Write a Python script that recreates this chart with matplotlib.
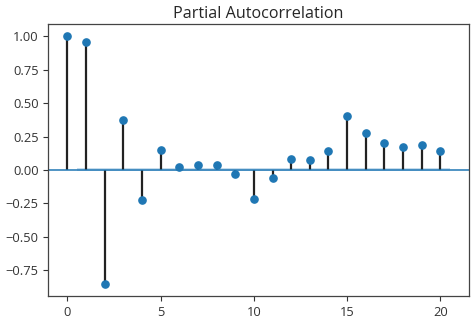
import numpy as np
import matplotlib.pyplot as plt

# partial autocorrelation by lag
lags = np.arange(0, 21)
pacf_vals = [1.00, 0.955, -0.853, 0.372, -0.225, 0.15, 0.018, 0.035, 0.035, -0.028,
             -0.22, -0.058, 0.085, 0.073, 0.14, 0.40, 0.28, 0.205, 0.175, 0.19, 0.14]
conf_half = 0.012  # half width of the 95% band around zero
title = "Partial Autocorrelation"

plt.rcParams['font.family'] = ['Open Sans', 'DejaVu Sans']

fig = plt.figure(figsize=(4.74, 3.25), dpi=100)
ax = fig.add_axes([0.102, 0.089, 0.887, 0.837])

pacf_vals = np.asarray(pacf_vals)
ax.vlines(lags, [0], pacf_vals, colors='#222222', linewidth=1.6)
ax.axhline(0, color='C0', linewidth=1.1)
ax.plot(lags, pacf_vals, 'o', color='C0', markersize=5.2)

# band edges offset by half a lag, as in statsmodels
band_x = lags[1:].astype(float)
band_x[0] -= 0.5
band_x[-1] += 0.5
ax.fill_between(band_x, -conf_half, conf_half, color='C0', alpha=0.25, linewidth=0)

ax.margins(0.05)
ax.set_title(title, fontsize=11.6, color='#262626', pad=4)
ax.set_xticks([0, 5, 10, 15, 20])
ax.set_yticks([1.0, 0.75, 0.5, 0.25, 0.0, -0.25, -0.5, -0.75])
ax.tick_params(labelsize=9.3, colors='#333333', length=3.5, width=0.8)
for sp in ax.spines.values():
    sp.set_color('#444444')
    sp.set_linewidth(0.9)

fig.savefig('out.png', dpi=100)
